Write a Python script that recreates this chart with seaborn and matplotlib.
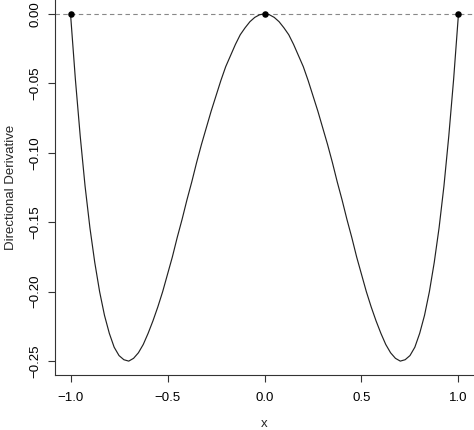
import matplotlib
matplotlib.use("Agg")
import matplotlib.pyplot as plt
import seaborn as sns

# sample grid of the curve
x_grid = [-1.0, -0.975, -0.95, -0.925, -0.9, -0.875, -0.85, -0.825, -0.8, -0.775,
          -0.75, -0.725, -0.7, -0.675, -0.65, -0.625, -0.6, -0.575, -0.55, -0.525,
          -0.5, -0.475, -0.45, -0.425, -0.4, -0.375, -0.35, -0.325, -0.3, -0.275,
          -0.25, -0.225, -0.2, -0.175, -0.15, -0.125, -0.1, -0.075, -0.05, -0.025,
          0.0, 0.025, 0.05, 0.075, 0.1, 0.125, 0.15, 0.175, 0.2, 0.225,
          0.25, 0.275, 0.3, 0.325, 0.35, 0.375, 0.4, 0.425, 0.45, 0.475,
          0.5, 0.525, 0.55, 0.575, 0.6, 0.625, 0.65, 0.675, 0.7, 0.725,
          0.75, 0.775, 0.8, 0.825, 0.85, 0.875, 0.9, 0.925, 0.95, 0.975, 1.0]

deriv = [0.0, -0.047, -0.088, -0.124, -0.154, -0.179, -0.200, -0.217, -0.230, -0.240,
         -0.246, -0.249, -0.250, -0.248, -0.244, -0.238, -0.230, -0.221, -0.211, -0.200,
         -0.1875, -0.175, -0.161, -0.148, -0.134, -0.121, -0.107, -0.094, -0.082, -0.070,
         -0.059, -0.048, -0.038, -0.030, -0.022, -0.015, -0.010, -0.0056, -0.0025, -0.0006,
         0.0, -0.0006, -0.0025, -0.0056, -0.010, -0.015, -0.022, -0.030, -0.038, -0.048,
         -0.059, -0.070, -0.082, -0.094, -0.107, -0.121, -0.134, -0.148, -0.161, -0.175,
         -0.1875, -0.200, -0.211, -0.221, -0.230, -0.238, -0.244, -0.248, -0.250, -0.249,
         -0.246, -0.240, -0.230, -0.217, -0.200, -0.179, -0.154, -0.124, -0.088, -0.047, 0.0]

# support points marked on the zero line
support_x = [-1.0, 0.0, 1.0]
support_y = [0.0, 0.0, 0.0]

x_ticks = [-1.0, -0.5, 0.0, 0.5, 1.0]
y_ticks = [0.00, -0.05, -0.10, -0.15, -0.20, -0.25]

sns.set_style("ticks")
plt.rcParams['font.family'] = ['Liberation Sans', 'DejaVu Sans']
plt.rcParams['axes.unicode_minus'] = True

fig = plt.figure(figsize=(4.74, 4.30), dpi=100)
ax = fig.add_axes([55 / 474, 55 / 430, 419 / 474, 375 / 430])

ax.axhline(0, color='#888888', lw=0.8, linestyle=(0, (4, 3)), zorder=1)
sns.lineplot(x=x_grid, y=deriv, ax=ax, color='#222222', lw=0.85,
             sort=False, estimator=None, zorder=2)
sns.scatterplot(x=support_x, y=support_y, ax=ax, color='black', s=22,
                edgecolor='black', linewidth=0, zorder=3)

ax.set_xlim(-1.08, 1.08)
ax.set_ylim(-0.26, 0.01)
ax.set_xticks(x_ticks)
ax.set_xticklabels(['−1.0', '−0.5', '0.0', '0.5', '1.0'])
ax.set_yticks(y_ticks)
ax.set_yticklabels(['0.00', '−0.05', '−0.10', '−0.15', '−0.20', '−0.25'],
                   rotation=90, va='center')

ax.tick_params(axis='both', direction='out', length=5, width=0.8,
               color='#333333', labelsize=9.5, labelcolor='black')
ax.tick_params(axis='x', pad=7)
ax.tick_params(axis='y', pad=5)

for side in ['top', 'right']:
    ax.spines[side].set_visible(False)
for side in ['left', 'bottom']:
    ax.spines[side].set_color('#333333')
    ax.spines[side].set_linewidth(0.8)

ax.set_xlabel('x', fontsize=9.5, labelpad=10)
ax.set_ylabel('Directional Derivative', fontsize=9.5, labelpad=9)

fig.savefig('out.png', dpi=100)
